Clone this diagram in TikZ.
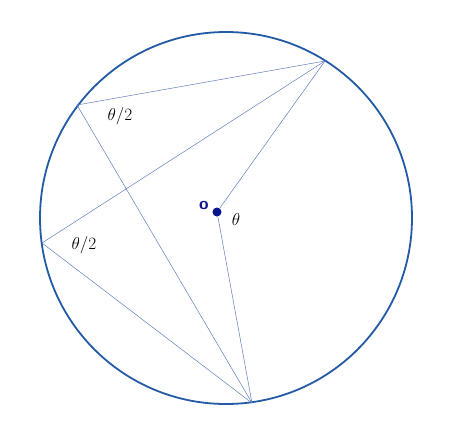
\documentclass[tikz,border=0pt]{standalone}
\usepackage{amsmath, amssymb}
\usepackage{xcolor}
\usepackage{tikz}

\definecolor{rim}{RGB}{35,90,165}
\definecolor{chord}{RGB}{95,125,190}
\definecolor{navy}{RGB}{10,20,140}

\begin{document}
\begin{tikzpicture}[x=1pt, y=-1pt]
        \useasboundingbox (0,0) rectangle (450,442);

        % circle
        \draw[rim, line width=1.8pt] (226,218) circle[radius=186];

        % points on the circle
        \coordinate (A) at (325,61);
        \coordinate (B) at (77,105);
        \coordinate (C) at (42,243);
        \coordinate (D) at (252,403);

        % centre
        \node[circle, fill=navy, inner sep=0pt, minimum size=9pt] (O) at (217,212) {};
        \node[navy, font=\LARGE\bfseries\sffamily] (o) at (204,205) {o};

        % labels
        \node[font=\LARGE] (t) at (236,219) {$\theta$};
        \node[font=\LARGE] (t1) at (120,116) {$\theta/2$};
        \node[font=\LARGE] (t2) at (84,245) {$\theta/2$};

        % chords
        \foreach \p in {B, C} {
            \draw[chord, line width=0.5pt] (A) -- (\p) -- (D);
        }
        \draw[chord, line width=0.5pt] (A) -- (O) -- (D);
    \end{tikzpicture}
\end{document}
